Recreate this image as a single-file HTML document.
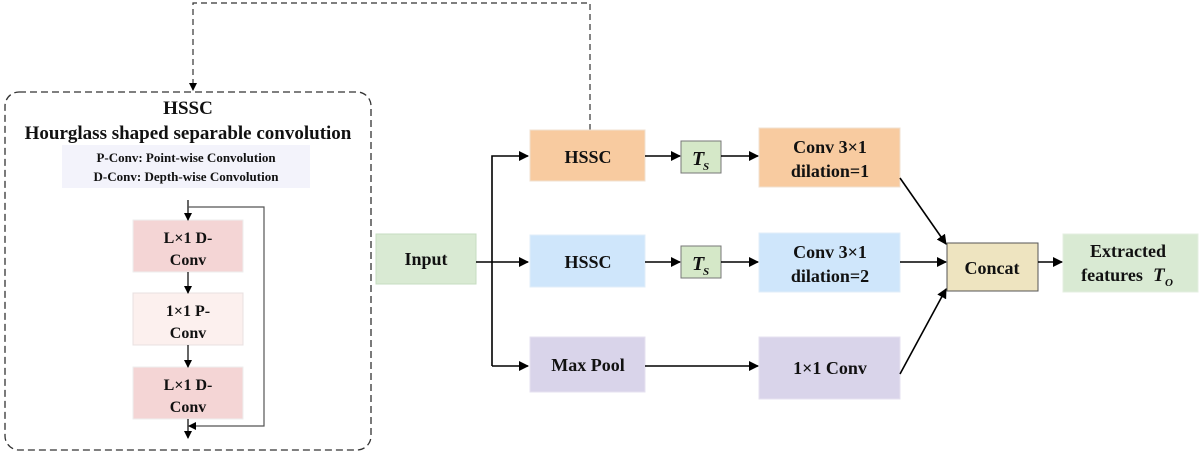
<!DOCTYPE html>
<html><head><meta charset="utf-8"><style>
body{margin:0;background:#fff}
text{font-family:"Liberation Serif",serif;font-weight:bold;fill:#111}
</style></head><body>
<svg width="1200" height="454" viewBox="0 0 1200 454" xmlns="http://www.w3.org/2000/svg">
<defs>
<marker id="a" markerWidth="10" markerHeight="10" refX="9" refY="5" orient="auto" markerUnits="userSpaceOnUse"><path d="M0,0 L10,5 L0,10z" fill="#000"/></marker>
<marker id="s" markerWidth="8" markerHeight="8" refX="7" refY="4" orient="auto" markerUnits="userSpaceOnUse"><path d="M0,0 L8,4 L0,8z" fill="#000"/></marker>
</defs>
<!-- left dashed box -->
<rect x="5" y="92" width="366" height="358" rx="14" fill="none" stroke="#333" stroke-width="1.3" stroke-dasharray="7,4"/>
<path d="M590,130 V3 H193 V90" fill="none" stroke="#333" stroke-width="1.2" stroke-dasharray="6,4" marker-end="url(#s)"/>
<text x="188" y="114" font-size="19" text-anchor="middle">HSSC</text>
<text x="188" y="139" font-size="19" text-anchor="middle">Hourglass shaped separable convolution</text>
<rect x="62" y="145" width="248" height="43" fill="#f3f3fb"/>
<text x="186" y="162" font-size="13" text-anchor="middle">P-Conv: Point-wise Convolution</text>
<text x="186" y="181" font-size="13" text-anchor="middle">D-Conv: Depth-wise Convolution</text>
<rect x="133" y="220" width="110" height="52" fill="#f4d5d5" stroke="#eee"/>
<text x="188" y="243" font-size="16" text-anchor="middle">L×1 D-</text>
<text x="188" y="265" font-size="16" text-anchor="middle">Conv</text>
<rect x="133" y="293" width="110" height="52" fill="#fcf0ee" stroke="#e8e0e0"/>
<text x="188" y="316" font-size="16" text-anchor="middle">1×1 P-</text>
<text x="188" y="338" font-size="16" text-anchor="middle">Conv</text>
<rect x="133" y="367" width="110" height="52" fill="#f4d5d5" stroke="#eee"/>
<text x="188" y="390" font-size="16" text-anchor="middle">L×1 D-</text>
<text x="188" y="412" font-size="16" text-anchor="middle">Conv</text>
<g stroke="#000" stroke-width="1.2" fill="none">
<line x1="188" y1="200" x2="188" y2="220" marker-end="url(#s)"/>
<line x1="188" y1="272" x2="188" y2="293" marker-end="url(#s)"/>
<line x1="188" y1="345" x2="188" y2="367" marker-end="url(#s)"/>
<line x1="188" y1="419" x2="188" y2="438" marker-end="url(#s)"/>
<path d="M188,207 H264 V426 H189" stroke="#555" marker-end="url(#s)"/>
</g>
<!-- main flow -->
<rect x="376" y="234" width="100" height="50" fill="#d9ead3" stroke="#c6dcc0"/>
<text x="426" y="265" font-size="18" text-anchor="middle">Input</text>
<rect x="530" y="130" width="115" height="51" fill="#f8cba0" stroke="#f0e0d0"/>
<text x="588" y="163" font-size="18" text-anchor="middle">HSSC</text>
<rect x="530" y="235" width="115" height="52" fill="#cfe6fb" stroke="#e0eef8"/>
<text x="588" y="268" font-size="18" text-anchor="middle">HSSC</text>
<rect x="530" y="337" width="115" height="55" fill="#d9d4ea" stroke="#e6e2f0"/>
<text x="588" y="371" font-size="18" text-anchor="middle">Max Pool</text>
<rect x="681" y="141" width="40" height="32" fill="#d5e8c8" stroke="#777"/>
<text x="692" y="165" font-size="20" font-style="italic" font-weight="normal">T</text><text x="703" y="170" font-size="11" font-style="italic" font-weight="normal">S</text>
<rect x="681" y="246" width="40" height="32" fill="#d5e8c8" stroke="#777"/>
<text x="692" y="270" font-size="20" font-style="italic" font-weight="normal">T</text><text x="703" y="275" font-size="11" font-style="italic" font-weight="normal">S</text>
<rect x="759" y="128" width="141" height="59" fill="#f8cba0" stroke="#f0e0d0"/>
<text x="830" y="153" font-size="18" text-anchor="middle">Conv 3×1</text>
<text x="830" y="177" font-size="18" text-anchor="middle">dilation=1</text>
<rect x="759" y="233" width="141" height="59" fill="#cfe6fb" stroke="#e0eef8"/>
<text x="830" y="258" font-size="18" text-anchor="middle">Conv 3×1</text>
<text x="830" y="282" font-size="18" text-anchor="middle">dilation=2</text>
<rect x="759" y="337" width="141" height="62" fill="#d9d4ea" stroke="#e6e2f0"/>
<text x="830" y="374" font-size="18" text-anchor="middle">1×1 Conv</text>
<rect x="947" y="243" width="91" height="48" fill="#eee4c0" stroke="#555"/>
<text x="992" y="274" font-size="18" text-anchor="middle">Concat</text>
<rect x="1063" y="234" width="135" height="58" fill="#d9ead3" stroke="#e4efe0"/>
<text x="1128" y="257" font-size="18" text-anchor="middle">Extracted</text>
<text x="1112" y="281" font-size="18" text-anchor="middle">features</text>
<text x="1153" y="281" font-size="19" font-style="italic" font-weight="normal">T</text><text x="1165" y="286" font-size="11" font-style="italic" font-weight="normal">O</text>
<g stroke="#000" stroke-width="1.6" fill="none">
<line x1="476" y1="262" x2="528" y2="262" marker-end="url(#a)"/>
<path d="M492,366 V156 H528" marker-end="url(#a)"/>
<line x1="492" y1="366" x2="528" y2="366" marker-end="url(#a)"/>
<line x1="645" y1="156" x2="680" y2="156" marker-end="url(#a)"/>
<line x1="721" y1="156" x2="758" y2="156" marker-end="url(#a)"/>
<line x1="645" y1="262" x2="680" y2="262" marker-end="url(#a)"/>
<line x1="721" y1="262" x2="758" y2="262" marker-end="url(#a)"/>
<line x1="645" y1="366" x2="758" y2="366" marker-end="url(#a)"/>
<line x1="900" y1="178" x2="946" y2="244" marker-end="url(#a)"/>
<line x1="900" y1="262" x2="946" y2="262" marker-end="url(#a)"/>
<line x1="900" y1="374" x2="946" y2="289" marker-end="url(#a)"/>
<line x1="1038" y1="262" x2="1062" y2="262" marker-end="url(#a)"/>
</g>
</svg>
</body></html>
